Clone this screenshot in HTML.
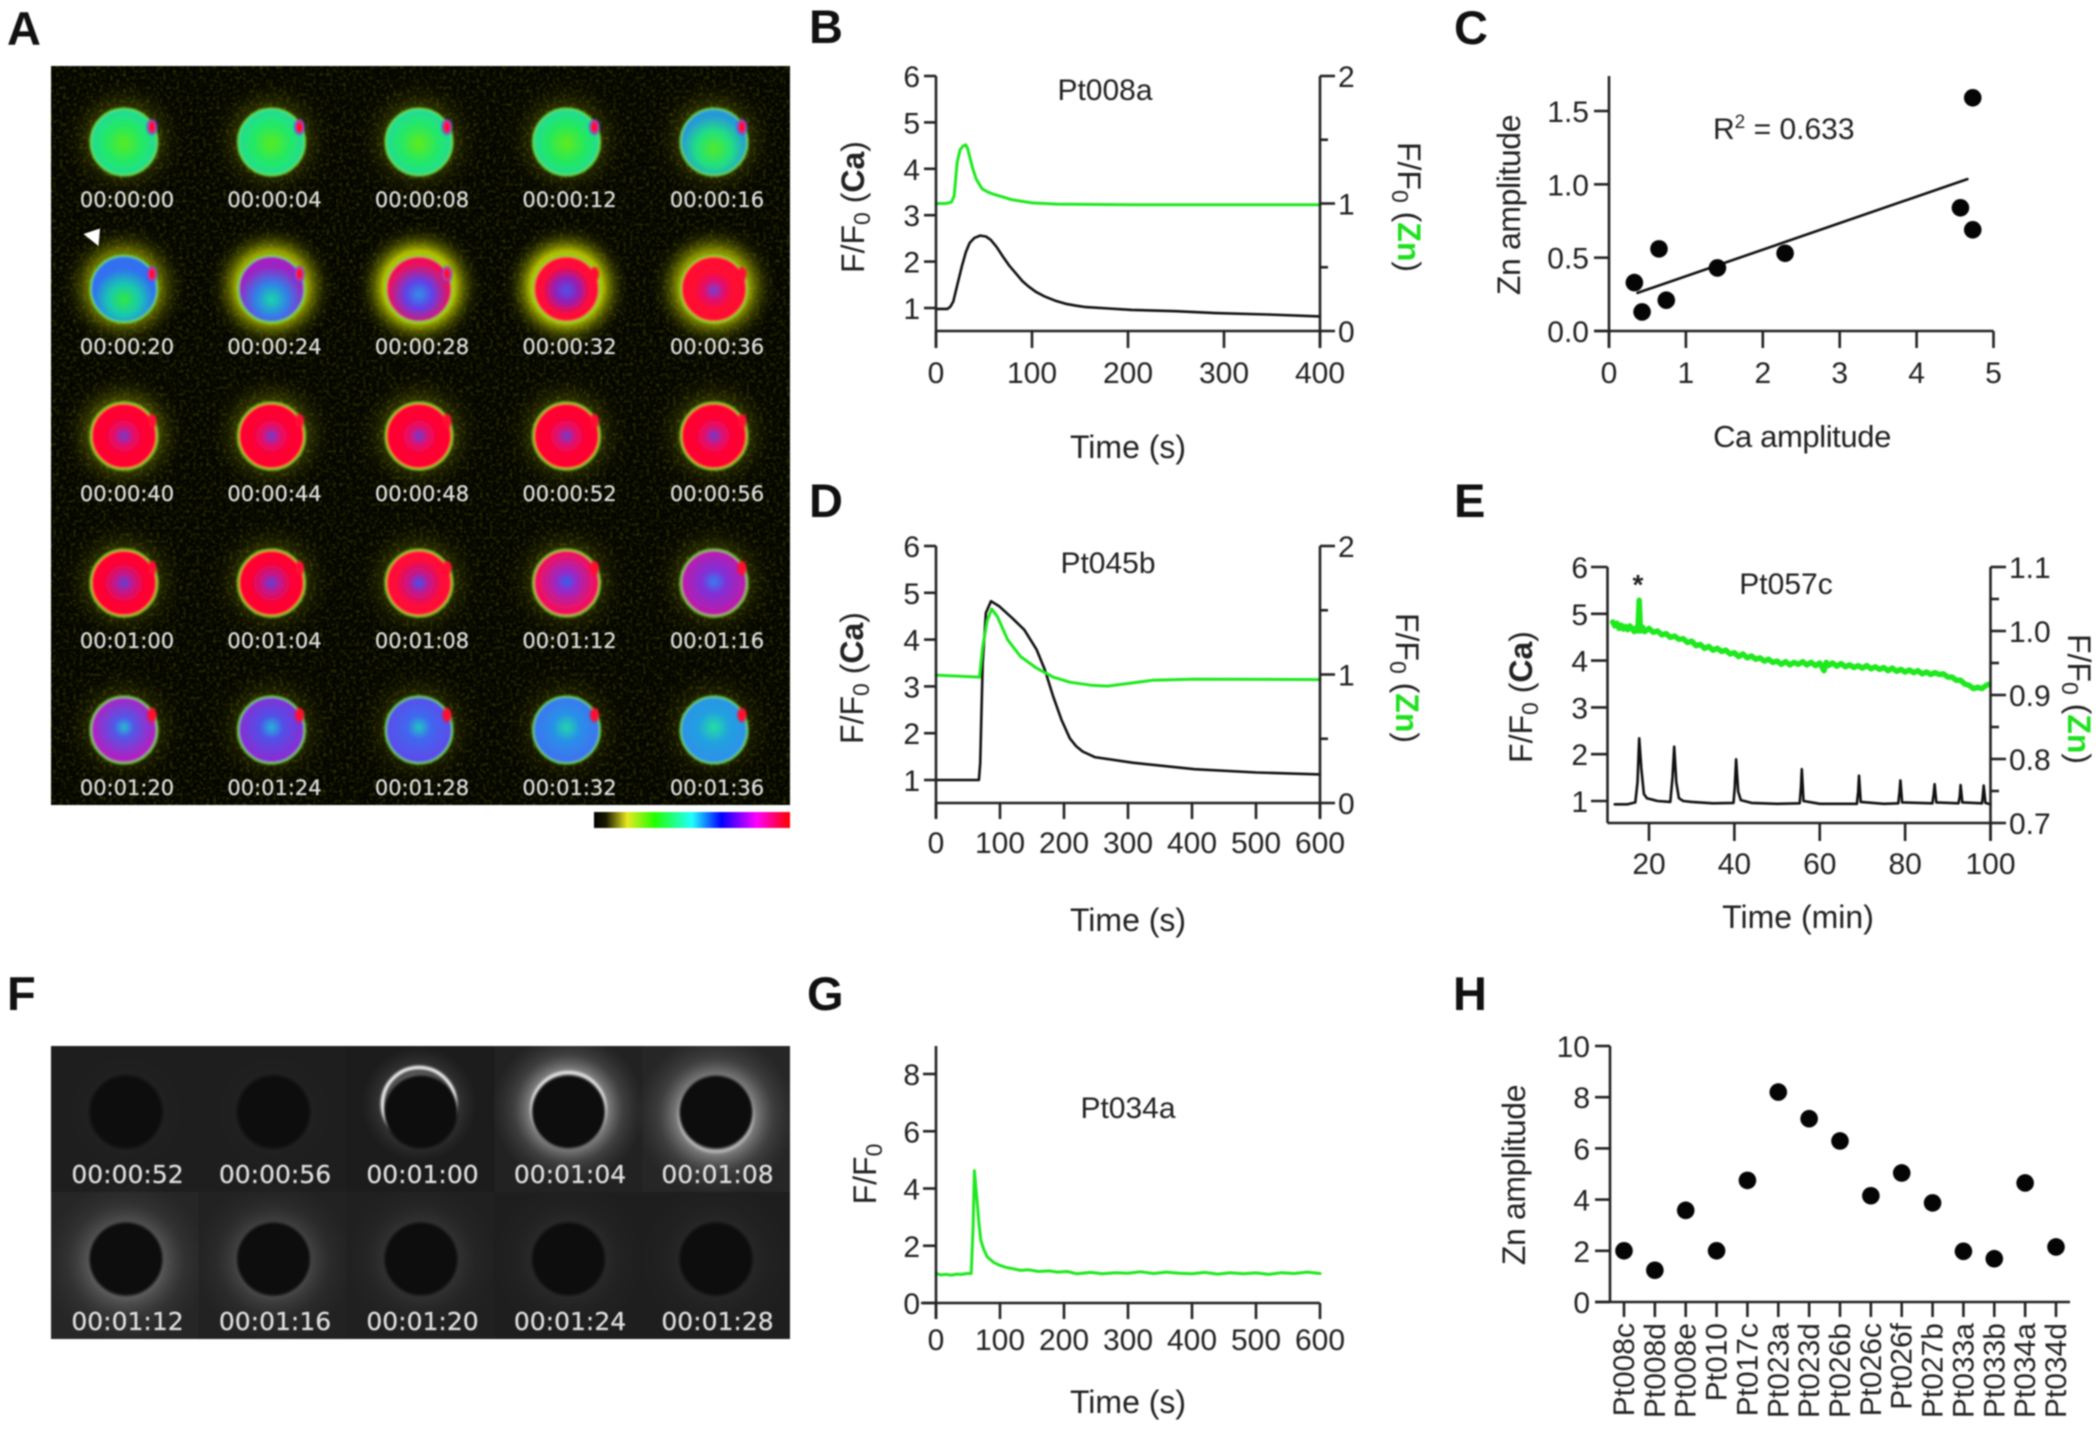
<!DOCTYPE html>
<html lang="en">
<head>
<meta charset="utf-8">
<title>Calcium and zinc imaging figure</title>
<style>
html,body{margin:0;padding:0;background:#fff;width:2100px;height:1429px;overflow:hidden}
svg{display:block;filter:blur(0.7px)}
text{font-family:"Liberation Sans",sans-serif;fill:#222}
.plab{font-size:47px;font-weight:bold;fill:#111}
.t30{font-size:30px}
.ylab{font-size:32px}
.stamp{font-family:"DejaVu Sans",sans-serif;font-size:21px;fill:#dcdcdc;stroke:#cfcfcf;stroke-width:0.35;text-anchor:middle}
.stampf{font-family:"DejaVu Sans",sans-serif;font-size:25px;fill:#dedede;stroke:#d0d0d0;stroke-width:0.35;text-anchor:middle}
</style>
</head>
<body>
<svg id="figure" xmlns="http://www.w3.org/2000/svg" width="2100" height="1429" viewBox="0 0 2100 1429">
  <defs>
    <filter id="soft" x="-30%" y="-30%" width="160%" height="160%"><feGaussianBlur stdDeviation="1.1"/></filter>
    <filter id="specks" x="0" y="0" width="100%" height="100%">
      <feTurbulence type="fractalNoise" baseFrequency="0.3" numOctaves="2" seed="4"/>
      <feColorMatrix type="matrix" values="0 0 0 0 0.2  0 0 0 0 0.22  0 0 0 0 0  1.0 0 0 0 -0.48"/>
    </filter>
    <radialGradient id="halo-a" cx="0.5" cy="0.5" r="0.5">
      <stop offset="0" stop-color="#d0dc00"/>
      <stop offset="0.56" stop-color="#d0dc00"/>
      <stop offset="0.7" stop-color="#a8b400" stop-opacity="0.55"/>
      <stop offset="0.85" stop-color="#6c7400" stop-opacity="0.2"/>
      <stop offset="1" stop-color="#3c4000" stop-opacity="0"/>
    </radialGradient>
    <radialGradient id="halo-f" cx="0.5" cy="0.5" r="0.5">
      <stop offset="0" stop-color="#fff"/>
      <stop offset="0.48" stop-color="#fff"/>
      <stop offset="0.72" stop-color="#aaa" stop-opacity="0.42"/>
      <stop offset="1" stop-color="#777" stop-opacity="0"/>
    </radialGradient>
    <linearGradient id="colorbar-gradient" x1="0" y1="0" x2="1" y2="0">
      <stop offset="0" stop-color="#000"/>
      <stop offset="0.06" stop-color="#181800"/>
      <stop offset="0.17" stop-color="#e8e820"/>
      <stop offset="0.31" stop-color="#20ff00"/>
      <stop offset="0.5" stop-color="#20ffff"/>
      <stop offset="0.65" stop-color="#0000ff"/>
      <stop offset="0.83" stop-color="#ff00ff"/>
      <stop offset="0.95" stop-color="#ff0040"/>
      <stop offset="1" stop-color="#ff0000"/>
    </linearGradient>
    <clipPath id="clip-f"><rect x="51" y="1046" width="739" height="293"/></clipPath>
  </defs>

  <text class="plab" x="7" y="45">A</text>
  <text class="plab" x="809" y="43">B</text>
  <text class="plab" x="1454" y="44">C</text>
  <text class="plab" x="809" y="517">D</text>
  <text class="plab" x="1454" y="517">E</text>
  <text class="plab" x="7" y="1010">F</text>
  <text class="plab" x="807" y="1010">G</text>
  <text class="plab" x="1453" y="1010">H</text>

  <g id="panel-a">
    <rect x="51" y="66" width="739" height="739" fill="#050600"/>
    <rect x="51" y="66" width="739" height="739" filter="url(#specks)"/>
    <g id="a-frames"></g>
    <polygon points="83.5,234 100,228.5 98.5,246" fill="#fff"/>
    <rect x="594" y="812" width="196" height="16" fill="url(#colorbar-gradient)"/>
  </g>

  <g id="panel-b">
    <text class="t30" x="1105" y="100" text-anchor="middle">Pt008a</text>
    <text class="ylab" x="1128" y="458" text-anchor="middle">Time (s)</text>
    <text class="ylab" transform="translate(864,207) rotate(-90)" text-anchor="middle">F/F<tspan dy="6" font-size="23">0</tspan><tspan dy="-6"> (</tspan><tspan font-weight="bold">Ca</tspan>)</text>
    <text class="ylab" transform="translate(1398,207) rotate(90)" text-anchor="middle">F/F<tspan dy="6" font-size="23">0</tspan><tspan dy="-6"> (</tspan><tspan font-weight="bold" style="fill:#1fe01f">Zn</tspan>)</text>
  </g>

  <g id="panel-c">
    <text class="t30" x="1713" y="139">R<tspan dy="-11" font-size="19">2</tspan><tspan dy="11"> = 0.633</tspan></text>
    <text class="t30" x="1802" y="447" text-anchor="middle" style="font-size:31px;letter-spacing:-0.4px">Ca amplitude</text>
    <text class="ylab" transform="translate(1520,205) rotate(-90)" text-anchor="middle" style="letter-spacing:-0.4px">Zn amplitude</text>
  </g>

  <g id="panel-d">
    <text class="t30" x="1108" y="573" text-anchor="middle">Pt045b</text>
    <text class="ylab" x="1128" y="931" text-anchor="middle">Time (s)</text>
    <text class="ylab" transform="translate(863,678) rotate(-90)" text-anchor="middle">F/F<tspan dy="6" font-size="23">0</tspan><tspan dy="-6"> (</tspan><tspan font-weight="bold">Ca</tspan>)</text>
    <text class="ylab" transform="translate(1396,678) rotate(90)" text-anchor="middle">F/F<tspan dy="6" font-size="23">0</tspan><tspan dy="-6"> (</tspan><tspan font-weight="bold" style="fill:#1fe01f">Zn</tspan>)</text>
  </g>

  <g id="panel-e">
    <text class="t30" x="1786" y="594" text-anchor="middle">Pt057c</text>
    <text x="1638" y="594" font-size="28" font-weight="bold" text-anchor="middle">*</text>
    <text class="ylab" x="1798" y="928" text-anchor="middle">Time (min)</text>
    <text class="ylab" transform="translate(1532,697) rotate(-90)" text-anchor="middle">F/F<tspan dy="6" font-size="23">0</tspan><tspan dy="-6"> (</tspan><tspan font-weight="bold">Ca</tspan>)</text>
    <text class="ylab" transform="translate(2068,699) rotate(90)" text-anchor="middle">F/F<tspan dy="6" font-size="23">0</tspan><tspan dy="-6"> (</tspan><tspan font-weight="bold" style="fill:#1fe01f">Zn</tspan>)</text>
  </g>

  <g id="panel-f" clip-path="url(#clip-f)"></g>

  <g id="panel-g">
    <text class="t30" x="1128" y="1118" text-anchor="middle">Pt034a</text>
    <text class="ylab" x="1128" y="1413" text-anchor="middle">Time (s)</text>
    <text class="ylab" transform="translate(876,1174) rotate(-90)" text-anchor="middle">F/F<tspan dy="6" font-size="23">0</tspan></text>
  </g>

  <g id="panel-h">
    <text class="ylab" transform="translate(1525,1175) rotate(-90)" text-anchor="middle" style="letter-spacing:-0.4px">Zn amplitude</text>
  </g>
</svg>

<script>
/* ---------- Panel B data ---------- */
var bTicksX = [0, 100, 200, 300, 400];
var bTicksLeft = [1, 2, 3, 4, 5, 6];
var bTicksRight = [0, 1, 2];
var bMinorRight = [0.5, 1.5];
var bCaTime = [0, 12, 15, 18, 22, 27, 31, 35, 40, 46, 52, 57, 63, 70, 76, 83, 90, 96, 104, 113, 124, 135, 146, 156, 180, 204, 250, 291, 345, 400];
var bCaValue = [0.98, 0.98, 1.03, 1.14, 1.48, 1.9, 2.2, 2.4, 2.51, 2.56, 2.54, 2.47, 2.32, 2.1, 1.92, 1.75, 1.58, 1.47, 1.35, 1.25, 1.16, 1.09, 1.05, 1.02, 0.99, 0.96, 0.93, 0.89, 0.86, 0.82];
var bZnTime = [0, 10, 16, 19, 22, 25, 28, 31, 33, 35, 38, 42, 48, 54, 61, 70, 79, 100, 126, 204, 300, 400];
var bZnValue = [1, 1, 1.01, 1.06, 1.32, 1.42, 1.45, 1.46, 1.43, 1.37, 1.28, 1.19, 1.115, 1.09, 1.07, 1.05, 1.03, 1.005, 0.995, 0.99, 0.99, 0.99];

/* ---------- Panel C data ---------- */
var cTicksX = [0, 1, 2, 3, 4, 5];
var cTicksY = [0, 0.5, 1, 1.5];
var cLabelsY = ['0.0', '0.5', '1.0', '1.5'];
var cCaAmplitude = [0.33, 0.43, 0.745, 0.65, 1.41, 2.29, 4.57, 4.73, 4.73];
var cZnAmplitude = [0.33, 0.13, 0.21, 0.56, 0.43, 0.53, 0.84, 0.69, 1.59];
var cFitX = [0.37, 4.66];
var cFitY = [0.26, 1.036];

/* ---------- Panel D data ---------- */
var dTicksX = [0, 100, 200, 300, 400, 500, 600];
var dTicksLeft = [1, 2, 3, 4, 5, 6];
var dTicksRight = [0, 1, 2];
var dMinorRight = [0.5, 1.5];
var dCaTime = [0, 67, 69, 73, 78, 86, 99, 119, 138, 157, 170, 183, 196, 209, 219, 229, 248, 307, 404, 501, 600];
var dCaValue = [1, 1, 1.36, 3.5, 4.57, 4.82, 4.71, 4.46, 4.21, 3.79, 3.36, 2.79, 2.29, 1.89, 1.72, 1.61, 1.49, 1.37, 1.23, 1.16, 1.12];
var dZnTime = [0, 68, 73, 80, 87, 96, 112, 132, 157, 183, 209, 242, 268, 300, 339, 404, 600];
var dZnValue = [0.995, 0.98, 1.215, 1.42, 1.51, 1.45, 1.27, 1.14, 1.05, 0.98, 0.94, 0.917, 0.91, 0.93, 0.956, 0.964, 0.96];

/* ---------- Panel E data ---------- */
var eTicksX = [20, 40, 60, 80, 100];
var eTicksLeft = [1, 2, 3, 4, 5, 6];
var eTicksRight = [0.7, 0.8, 0.9, 1.0, 1.1];
var eLabelsRight = ['0.7', '0.8', '0.9', '1.0', '1.1'];
var eMinorRight = [0.75, 0.85, 0.95, 1.05];
var eCaTime = [12, 15, 16.8, 17.3, 17.7, 18.2, 18.8, 19.5, 22, 25, 25.5, 25.9, 26.4, 27, 28, 30, 35, 39.8, 40.1, 40.4, 40.9, 41.5, 44, 50, 55.3, 55.6, 55.8, 56.2, 60, 68.7, 69, 69.2, 69.6, 75, 78.4, 78.7, 78.9, 79.3, 86.4, 86.7, 86.9, 87.3, 92.5, 92.8, 93, 93.4, 98, 98.2, 98.4, 98.8, 100];
var eCaValue = [0.93, 0.93, 0.97, 1.4, 2.34, 1.7, 1.15, 1.06, 1.0, 0.98, 1.5, 2.16, 1.4, 1.06, 1.0, 0.98, 0.95, 0.96, 1.3, 1.89, 1.2, 1.02, 0.96, 0.94, 0.95, 1.3, 1.68, 1.0, 0.94, 0.94, 1.2, 1.54, 0.98, 0.94, 0.95, 1.2, 1.44, 0.97, 0.95, 1.15, 1.36, 0.97, 0.95, 1.1, 1.34, 0.97, 0.95, 1.1, 1.33, 0.96, 0.93];
var eZnTime = [11.5, 12, 12.5, 13, 13.5, 14, 14.5, 15, 15.5, 16, 16.5, 17, 17.4, 17.7, 18, 18.5, 19, 20, 21, 22, 23, 24, 25, 26, 27, 28, 29, 30, 31, 32, 33, 34, 35, 36, 37, 38, 39, 40, 41, 42, 43, 44, 45, 46, 47, 48, 49, 50, 51, 52, 53, 54, 55, 56, 57, 58, 59, 60, 61, 61.5, 62, 63, 64, 65, 66, 67, 68, 69, 70, 71, 72, 73, 74, 75, 76, 77, 78, 79, 80, 81, 82, 83, 84, 85, 86, 87, 88, 89, 90, 91, 92, 93, 94, 95, 96, 97, 98, 99, 99.7];
var eZnValue = [1.014, 1.008, 1.012, 1.004, 1.009, 1.003, 1.007, 1.002, 1.008, 1.004, 0.999, 1.005, 1.0, 1.048, 1.0, 1.006, 0.999, 1.004, 0.998, 1.0, 0.994, 0.996, 0.99, 0.992, 0.987, 0.988, 0.982, 0.984, 0.977, 0.979, 0.973, 0.976, 0.97, 0.973, 0.968, 0.97, 0.964, 0.966, 0.96, 0.964, 0.958, 0.961, 0.956, 0.958, 0.953, 0.956, 0.951, 0.953, 0.948, 0.952, 0.947, 0.951, 0.948, 0.952, 0.947, 0.951, 0.946, 0.95, 0.938, 0.951, 0.946, 0.95, 0.945, 0.949, 0.944, 0.947, 0.943, 0.946, 0.942, 0.946, 0.941, 0.944, 0.94, 0.943, 0.938, 0.942, 0.937, 0.94, 0.936, 0.939, 0.935, 0.938, 0.933, 0.936, 0.932, 0.935, 0.932, 0.933, 0.928, 0.928, 0.923, 0.923, 0.917, 0.915, 0.91, 0.912, 0.91, 0.915, 0.917];

/* ---------- Panel G data ---------- */
var gTicksX = [0, 100, 200, 300, 400, 500, 600];
var gTicksY = [0, 2, 4, 6, 8];
var gTime = [0, 8, 16, 24, 32, 40, 48, 55, 58, 60, 62, 64, 67, 70, 75, 80, 90, 99, 110, 120, 132, 145, 160, 177, 190, 205, 220, 242, 260, 280, 300, 320, 340, 360, 380, 400, 420, 440, 460, 480, 500, 520, 540, 560, 580, 600];
var gValue = [1.03, 0.98, 1.0, 0.97, 1.01, 1.0, 1.03, 1.03, 2.66, 4.62, 4.1, 3.59, 2.8, 2.19, 1.85, 1.61, 1.42, 1.32, 1.24, 1.2, 1.14, 1.16, 1.1, 1.12, 1.08, 1.1, 1.02, 1.07, 1.02, 1.06, 1.04, 1.09, 1.03, 1.08, 1.04, 1.02, 1.07, 1.01, 1.06, 1.02, 1.05, 1.0, 1.06, 1.03, 1.08, 1.03];

/* ---------- Panel H data ---------- */
var hCategories = ['Pt008c', 'Pt008d', 'Pt008e', 'Pt010', 'Pt017c', 'Pt023a', 'Pt023d', 'Pt026b', 'Pt026c', 'Pt026f', 'Pt027b', 'Pt033a', 'Pt033b', 'Pt034a', 'Pt034d'];
var hValues = [2.0, 1.24, 3.58, 2.0, 4.75, 8.2, 7.16, 6.29, 4.15, 5.04, 3.87, 1.98, 1.69, 4.65, 2.15];
var hTicksY = [0, 2, 4, 6, 8, 10];

/* ---------- Panel A frames ---------- */
var aTimes = ['00:00:00','00:00:04','00:00:08','00:00:12','00:00:16','00:00:20','00:00:24','00:00:28','00:00:32','00:00:36','00:00:40','00:00:44','00:00:48','00:00:52','00:00:56','00:01:00','00:01:04','00:01:08','00:01:12','00:01:16','00:01:20','00:01:24','00:01:28','00:01:32','00:01:36'];
var aCore = ['#58ea20','#58ea20','#60ea1c','#60ea1c','#50ea28','#30e840','#18d8a8','#3090e8','#5050e8','#7040d8','#6a3cd0','#6a3cd0','#6a3cd0','#6a3cd0','#6a3cd0','#5a40d8','#5a40d8','#4050f0','#3060f0','#3080f0','#20c0d0','#20b8d8','#20c8c0','#20d8a8','#20e0a0'];
var aMid = ['#20e868','#20e868','#20e868','#20e860','#20e080','#18c8b0','#3080e8','#6040e8','#9020b8','#e01070','#e01070','#e01070','#e01070','#e01070','#e01070','#c01890','#c01890','#c01890','#9828c8','#8030d8','#5058e8','#5050e8','#3f68f0','#2890e8','#20a0e0'];
var aRim = ['#22d8a0','#22d8a0','#22d8a0','#22d8a0','#2898d8','#3070f0','#a020c0','#f01058','#ff0838','#ff0830','#ff0030','#ff0030','#ff0030','#ff0030','#ff0030','#ff0030','#ff0030','#ff0838','#f01060','#c818a0','#b020c0','#9028d0','#6048e8','#4070f0','#3090e8'];
var aMidStop = [0.5,0.5,0.5,0.5,0.45,0.4,0.42,0.35,0.3,0.25,0.24,0.24,0.24,0.24,0.24,0.22,0.22,0.25,0.25,0.3,0.25,0.3,0.3,0.35,0.4];
var aRimStop = [0.92,0.92,0.92,0.92,0.85,0.8,0.88,0.8,0.62,0.5,0.5,0.5,0.5,0.5,0.5,0.55,0.55,0.6,0.72,0.9,0.8,0.9,0.9,0.9,0.9];
var aCenterY = [0.52,0.52,0.52,0.52,0.6,0.66,0.66,0.58,0.52,0.52,0.5,0.5,0.5,0.5,0.5,0.5,0.5,0.5,0.48,0.48,0.46,0.46,0.46,0.46,0.46];
var aHalo = [0.16,0.16,0.16,0.15,0.16,0.48,0.72,0.85,0.85,0.65,0.26,0.2,0.18,0.16,0.16,0.15,0.15,0.15,0.14,0.14,0.12,0.12,0.12,0.1,0.1];

/* ---------- Panel F frames ---------- */
var fTimes = ['00:00:52','00:00:56','00:01:00','00:01:04','00:01:08','00:01:12','00:01:16','00:01:20','00:01:24','00:01:28'];
var fTile = ['#1e1e1e','#1e1e1e','#1c1c1c','#222222','#262626','#262626','#222222','#202020','#1e1e1e','#1e1e1e'];
var fDisc = ['#0f0f0f','#0f0f0f','#0b0b0b','#0b0b0b','#0b0b0b','#0c0c0c','#0c0c0c','#0e0e0e','#0e0e0e','#0f0f0f'];
var fHaloStrength = [0.02,0.02,0.32,0.5,0.42,0.2,0.14,0.08,0.05,0.04];
var fHaloRadius = [60,60,58,76,80,82,80,76,76,76];
var fRingStrength = [0,0,0.95,0.75,0.4,0.05,0.03,0,0,0];
var fOffsetX = [0,0,-2,0,0,0,0,0,0,0];
var fOffsetY = [0,0,-8,-3,3,3,2,0,0,0];

/* ---------- Helpers ---------- */
var NS = 'http://www.w3.org/2000/svg';
var INK = '#222';
var GREEN = '#1fe81f';
function byId(id){ return document.getElementById(id); }
function make(tag, parent){
  var node = document.createElementNS(NS, tag);
  parent.appendChild(node);
  return node;
}
function linear(domain, range){
  return function(v){ return range[0] + (v - domain[0]) * (range[1] - range[0]) / (domain[1] - domain[0]); };
}
function rule(parent, x1, y1, x2, y2, name){
  var ln = make('line', parent);
  
  
  ln.setAttribute('x1', x1); ln.setAttribute('y1', y1);
  ln.setAttribute('x2', x2); ln.setAttribute('y2', y2);
  ln.setAttribute('stroke', INK);
  ln.setAttribute('stroke-width', '2.6');
  return ln;
}
function label(parent, x, y, str, anchor, name){
  var tx = make('text', parent);
  
  
  tx.setAttribute('x', x); tx.setAttribute('y', y);
  tx.setAttribute('text-anchor', anchor);
  tx.setAttribute('class', 't30');
  tx.textContent = str;
  return tx;
}
function xTicks(parent, prefix, vals, scale, y0, y1, labelY){
  vals.forEach(function(v){
    rule(parent, scale(v), y0, scale(v), y1, prefix + '-x-tick-' + v);
    label(parent, scale(v), labelY, String(v), 'middle', prefix + '-x-tick-label-' + v);
  });
}
function yTicks(parent, prefix, vals, texts, scale, tickFrom, tickTo, labelX, anchor){
  vals.forEach(function(v, i){
    rule(parent, tickFrom, scale(v), tickTo, scale(v), prefix + '-tick-' + v);
    label(parent, labelX, scale(v) + 11, texts ? texts[i] : String(v), anchor, prefix + '-tick-label-' + v);
  });
}
function trace(parent, ts, vs, sx, sy, color, width, name){
  var p = make('polyline', parent);
  
  
  p.setAttribute('points', ts.map(function(t, i){ return sx(t).toFixed(1) + ',' + sy(vs[i]).toFixed(1); }).join(' '));
  p.setAttribute('fill', 'none');
  p.setAttribute('stroke', color);
  p.setAttribute('stroke-width', width);
  p.setAttribute('stroke-linejoin', 'round');
  p.setAttribute('stroke-linecap', 'round');
  return p;
}
function dot(parent, cx, cy, name){
  var c = make('circle', parent);
  
  
  c.setAttribute('cx', cx); c.setAttribute('cy', cy);
  c.setAttribute('r', '8.8');
  c.setAttribute('fill', '#050505');
  return c;
}

/* ---------- Panel B ---------- */
(function(){
  var g = byId('panel-b');
  var sx = linear([0, 400], [936, 1320]);
  var yL = linear([1, 6], [308, 76]);
  var yR = linear([0, 2], [331, 76]);
  trace(g, bCaTime, bCaValue, sx, yL, '#111', 2.6, 'ca-trace-b');
  trace(g, bZnTime, bZnValue, sx, yR, GREEN, 3, 'zn-trace-b');
  rule(g, 936, 76, 936, 348, 'left-axis-b');
  rule(g, 1320, 76, 1320, 348, 'right-axis-b');
  rule(g, 936, 331, 1320, 331, 'x-axis-b');
  xTicks(g, 'b', bTicksX, sx, 331, 348, 383);
  yTicks(g, 'b-left', bTicksLeft, null, yL, 924, 936, 920, 'end');
  yTicks(g, 'b-right', bTicksRight, null, yR, 1320, 1335, 1338, 'start');
  bMinorRight.forEach(function(v){ rule(g, 1320, yR(v), 1328, yR(v), 'b-right-minor-tick-' + v); });
})();

/* ---------- Panel C ---------- */
(function(){
  var g = byId('panel-c');
  var sx = linear([0, 5], [1609, 1993.5]);
  var sy = linear([0, 1.5], [331, 111]);
  rule(g, 1609, 76, 1609, 348, 'y-axis-c');
  rule(g, 1594, 331, 1993.5, 331, 'x-axis-c');
  xTicks(g, 'c', cTicksX, sx, 331, 348, 383);
  yTicks(g, 'c-y', cTicksY, cLabelsY, sy, 1594, 1609, 1589, 'end');
  trace(g, cFitX, cFitY, sx, sy, '#111', 2.6, 'regression-line');
  cCaAmplitude.forEach(function(v, i){ dot(g, sx(v), sy(cZnAmplitude[i]), 'scatter-point-' + (i + 1)); });
})();

/* ---------- Panel D ---------- */
(function(){
  var g = byId('panel-d');
  var sx = linear([0, 600], [936, 1320]);
  var yL = linear([1, 6], [780, 546]);
  var yR = linear([0, 2], [803, 546]);
  trace(g, dCaTime, dCaValue, sx, yL, '#111', 2.6, 'ca-trace-d');
  trace(g, dZnTime, dZnValue, sx, yR, GREEN, 3, 'zn-trace-d');
  rule(g, 936, 546, 936, 819, 'left-axis-d');
  rule(g, 1320, 546, 1320, 819, 'right-axis-d');
  rule(g, 936, 803, 1320, 803, 'x-axis-d');
  xTicks(g, 'd', dTicksX, sx, 803, 819, 853);
  yTicks(g, 'd-left', dTicksLeft, null, yL, 924, 936, 920, 'end');
  yTicks(g, 'd-right', dTicksRight, null, yR, 1320, 1335, 1338, 'start');
  dMinorRight.forEach(function(v){ rule(g, 1320, yR(v), 1328, yR(v), 'd-right-minor-tick-' + v); });
})();

/* ---------- Panel E ---------- */
(function(){
  var g = byId('panel-e');
  var sx = linear([20, 100], [1649, 1990.5]);
  var yL = linear([1, 6], [801, 567]);
  var yR = linear([0.7, 1.1], [823, 567]);
  trace(g, eCaTime, eCaValue, sx, yL, '#111', 2.6, 'ca-trace-e');
  trace(g, eZnTime, eZnValue, sx, yR, GREEN, 5.5, 'zn-trace-e');
  rule(g, 1607.5, 567, 1607.5, 823, 'left-axis-e');
  rule(g, 1990.5, 567, 1990.5, 841, 'right-axis-e');
  rule(g, 1607.5, 823, 1990.5, 823, 'x-axis-e');
  xTicks(g, 'e', eTicksX, sx, 823, 841, 874);
  yTicks(g, 'e-left', eTicksLeft, null, yL, 1591, 1607.5, 1588, 'end');
  yTicks(g, 'e-right', eTicksRight, eLabelsRight, yR, 1990.5, 2006, 2009, 'start');
  eMinorRight.forEach(function(v){ rule(g, 1990.5, yR(v), 1999, yR(v), 'e-right-minor-tick-' + v); });
})();

/* ---------- Panel G ---------- */
(function(){
  var g = byId('panel-g');
  var sx = linear([0, 600], [936, 1320]);
  var sy = linear([0, 8], [1303, 1074]);
  trace(g, gTime, gValue, sx, sy, GREEN, 3, 'zn-trace-g');
  rule(g, 936, 1046, 936, 1319, 'y-axis-g');
  rule(g, 921, 1303, 1320, 1303, 'x-axis-g');
  xTicks(g, 'g', gTicksX, sx, 1303, 1319, 1350);
  yTicks(g, 'g-y', gTicksY, null, sy, 923, 936, 920, 'end');
})();

/* ---------- Panel H ---------- */
(function(){
  var g = byId('panel-h');
  var sx = linear([0, hCategories.length - 1], [1624, 2056]);
  var sy = linear([0, 10], [1302, 1046]);
  rule(g, 1610, 1046, 1610, 1302, 'y-axis-h');
  rule(g, 1595, 1302, 2070, 1302, 'x-axis-h');
  yTicks(g, 'h-y', hTicksY, null, sy, 1595, 1610, 1590, 'end');
  hCategories.forEach(function(cat, i){
    rule(g, sx(i), 1302, sx(i), 1317, 'h-x-tick-' + cat);
    var t = label(g, 0, 0, cat, 'end', 'h-x-tick-label-' + cat);
    t.setAttribute('transform', 'translate(' + (sx(i) + 10) + ',1323) rotate(-90)');
    dot(g, sx(i), sy(hValues[i]), 'point-' + cat);
  });
})();

/* ---------- Panel A ---------- */
(function(){
  var root = byId('a-frames');
  var defs = document.querySelector('defs');
  var colX = linear([0, 4], [124, 714]);
  var rowY = linear([0, 4], [142, 730]);
  aTimes.forEach(function(stamp, i){
    var col = i % 5, row = Math.floor(i / 5);
    var cx = colX(col), cy = rowY(row);
    var gid = 'disc-gradient-' + i;
    var grad = make('radialGradient', defs);
    grad.setAttribute('id', gid);
    grad.setAttribute('cx', '0.5');
    grad.setAttribute('cy', aCenterY[i]);
    grad.setAttribute('r', '0.58');
    [[0, aCore[i]], [aMidStop[i], aMid[i]], [aRimStop[i], aRim[i]]].forEach(function(s){
      var st = make('stop', grad);
      st.setAttribute('offset', s[0]);
      st.setAttribute('stop-color', s[1]);
    });
    var frame = make('g', root);
    
    
    var halo = make('circle', frame);
    
    
    halo.setAttribute('cx', cx); halo.setAttribute('cy', cy - 2);
    halo.setAttribute('r', '64');
    halo.setAttribute('fill', 'url(#halo-a)');
    halo.setAttribute('opacity', aHalo[i]);
    var disc = make('circle', frame);
    
    
    disc.setAttribute('cx', cx); disc.setAttribute('cy', cy);
    disc.setAttribute('r', '33.5');
    disc.setAttribute('fill', 'url(#' + gid + ')');
    disc.setAttribute('stroke', '#70e030');
    disc.setAttribute('stroke-width', '2');
    disc.setAttribute('filter', 'url(#soft)');
    var spot = make('ellipse', frame);
    
    
    spot.setAttribute('cx', cx + 28); spot.setAttribute('cy', cy - 15);
    spot.setAttribute('rx', '4.5'); spot.setAttribute('ry', '7');
    spot.setAttribute('fill', '#ff0830');
    spot.setAttribute('filter', 'url(#soft)');
    if (i < 8) {
      spot.setAttribute('stroke', '#3050e8');
      spot.setAttribute('stroke-width', '1.5');
    }
    var time = make('text', frame);
    
    
    time.setAttribute('class', 'stamp');
    time.setAttribute('x', cx + 3);
    time.setAttribute('y', cy + 65);
    time.textContent = stamp;
  });
})();

/* ---------- Panel F ---------- */
(function(){
  var root = byId('panel-f');
  var colX = linear([0, 4], [126, 716]);
  var rowY = linear([0, 1], [1112, 1259]);
  var tileW = 739 / 5;
  fTimes.forEach(function(stamp, i){
    var col = i % 5, row = Math.floor(i / 5);
    var cx = colX(col), cy = rowY(row);
    var frame = make('g', root);
    
    
    var tile = make('rect', frame);
    
    
    tile.setAttribute('x', 51 + col * tileW);
    tile.setAttribute('y', row === 0 ? 1046 : 1192);
    tile.setAttribute('width', tileW + 0.5);
    tile.setAttribute('height', row === 0 ? 146 : 147);
    tile.setAttribute('fill', fTile[i]);
    var halo = make('circle', frame);
    
    
    halo.setAttribute('cx', cx + fOffsetX[i]); halo.setAttribute('cy', cy + fOffsetY[i]);
    halo.setAttribute('r', fHaloRadius[i]);
    halo.setAttribute('fill', 'url(#halo-f)');
    halo.setAttribute('opacity', fHaloStrength[i]);
    var ring = make('circle', frame);
    
    
    ring.setAttribute('cx', cx + fOffsetX[i]); ring.setAttribute('cy', cy + fOffsetY[i]);
    ring.setAttribute('r', '36.5');
    ring.setAttribute('fill', 'none');
    ring.setAttribute('stroke', '#fff');
    ring.setAttribute('stroke-width', '3.5');
    ring.setAttribute('opacity', fRingStrength[i]);
    ring.setAttribute('filter', 'url(#soft)');
    var disc = make('circle', frame);
    
    
    disc.setAttribute('cx', cx); disc.setAttribute('cy', cy);
    disc.setAttribute('r', '36.5');
    disc.setAttribute('fill', fDisc[i]);
    disc.setAttribute('filter', 'url(#soft)');
    var time = make('text', frame);
    
    
    time.setAttribute('class', 'stampf');
    time.setAttribute('x', cx + 1.5);
    time.setAttribute('y', cy + 71);
    time.textContent = stamp;
  });
})();
</script>
</body>
</html>
